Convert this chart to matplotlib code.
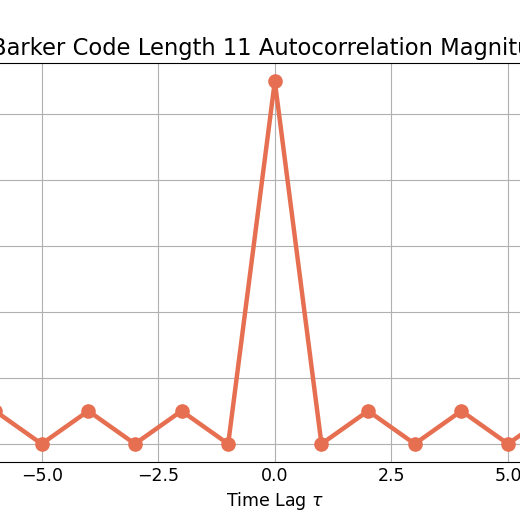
import numpy as np
import matplotlib.pyplot as plt

lags = list(range(-10, 11))
magnitude = [1, 0, 1, 0, 1, 0, 1, 0, 1, 0, 11, 0, 1, 0, 1, 0, 1, 0, 1, 0, 1]

fig = plt.figure(figsize=(5.2, 5.2), dpi=100)
# the view is a zoomed crop: axes spans far wider than the figure
ax = fig.add_axes([-0.458, 0.1115, 1.973, 0.767])
ax.plot(lags, magnitude, color="#E76F51", lw=3.2, marker="o", markersize=9.5)
ax.set_yticks([0, 2, 4, 6, 8, 10])
ax.tick_params(length=0, labelsize=12.5)
ax.grid(True, color="#b0b0b0", lw=0.8)
ax.set_xlabel(r"Time Lag $\tau$", fontsize=12.5)
ax.set_title("Barker Code Length 11 Autocorrelation Magnitude", fontsize=16.3)

fig.savefig("out.png", dpi=100)
